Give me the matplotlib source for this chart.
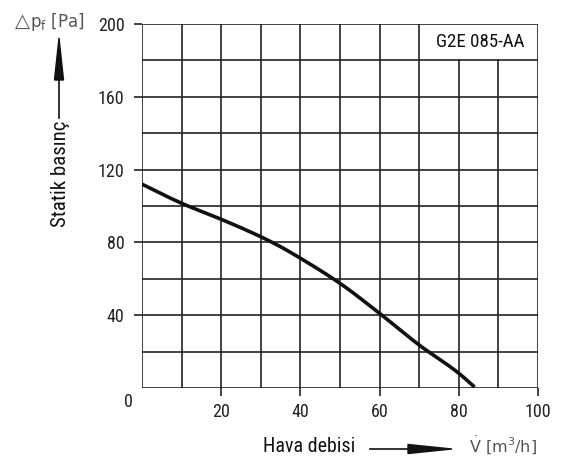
import matplotlib
matplotlib.use("Agg")
import matplotlib.pyplot as plt
from matplotlib.patches import Polygon
from matplotlib.lines import Line2D
import numpy as np

# Data
flow = [0, 10, 20, 30, 35, 40, 50, 60, 70, 80, 84]
pressure = [112, 101.5, 92.7, 83.1, 77.6, 71.3, 57.5, 41.0, 23.6, 8.1, 0.5]
x_ticks = [20, 40, 60, 80, 100]
y_ticks = [40, 80, 120, 160, 200]
model = "G2E 085-AA"

W, H = 566, 474
fig = plt.figure(figsize=(W/100, H/100), dpi=100)
ax = fig.add_axes([142/W, 1-388/H, (538-142)/W, (388-24)/H])
ax.set_xlim(0, 100)
ax.set_ylim(0, 200)

narrow = ['Roboto Condensed', 'Liberation Sans Narrow', 'Liberation Sans', 'DejaVu Sans']
gc = '#222222'
# grid lines (box for the model label hides part of them)
for xv in range(0, 101, 10):
    top = 180 if xv in (80, 90) else 200
    ax.plot([xv, xv], [0, top], color=gc, lw=1.2, zorder=1, solid_capstyle='projecting')
for yv in range(0, 201, 20):
    ax.plot([0, 100], [yv, yv], color=gc, lw=1.2, zorder=1, solid_capstyle='projecting')
for s in ax.spines.values():
    s.set_visible(False)

xs = np.array(flow, float); ys = np.array(pressure, float)
def pchip(x, y, xn):
    h = np.diff(x); d = np.diff(y)/h
    m = np.zeros_like(y)
    m[0] = d[0]; m[-1] = d[-1]
    for k in range(1, len(x)-1):
        if d[k-1]*d[k] <= 0:
            m[k] = 0
        else:
            w1 = 2*h[k]+h[k-1]; w2 = h[k]+2*h[k-1]
            m[k] = (w1+w2)/(w1/d[k-1]+w2/d[k])
    out = np.empty_like(xn)
    for i, xv in enumerate(xn):
        k = min(np.searchsorted(x, xv)-1, len(x)-2); k = max(k, 0)
        t = (xv-x[k])/h[k]
        h00 = 2*t**3-3*t**2+1; h10 = t**3-2*t**2+t
        h01 = -2*t**3+3*t**2; h11 = t**3-t**2
        out[i] = h00*y[k]+h10*h[k]*m[k]+h01*y[k+1]+h11*h[k]*m[k+1]
    return out
xn = np.linspace(xs[0], xs[-1], 300)
ax.plot(xn, pchip(xs, ys, xn), color='#111111', lw=2.6, zorder=3, solid_capstyle='butt')

ax.set_xticks(x_ticks)
ax.set_yticks(y_ticks)
ax.set_xticklabels([str(v) for v in x_ticks])
ax.set_yticklabels([str(v) for v in y_ticks])
ax.tick_params(axis='both', direction='out', length=6, width=1.2, color=gc,
               labelsize=13, labelcolor='#222222')
ax.tick_params(axis='x', pad=4.5)
ax.tick_params(axis='y', pad=6.5)
for lab in ax.get_xticklabels() + ax.get_yticklabels():
    lab.set_family(narrow)
# the shared origin label sits below-left of the corner
ax.text(-2.3, -2.5, '0', transform=ax.transData, ha='right', va='top', fontsize=13,
        family=narrow, color='#222222')

# model label
ax.text(85.4, 190, model, ha='center', va='center', fontsize=13.6,
        family=narrow, color='#111111', zorder=4)

# axis titles
fig.text(61/W, 1-174/H, 'Statik basınç', rotation=90, ha='center', va='center',
         fontsize=15, family=narrow, color='#111111')
fig.text(309.5/W, 1-447/H, 'Hava debisi', ha='center', va='center',
         fontsize=14.4, family=narrow, color='#111111')
fig.text(22.5/W, 1-21/H, '△', ha='center', va='center', fontsize=14,
         family='DejaVu Sans', color='#555555')
fig.text(30/W, 1-27/H, r'p$_{\mathrm{f}}$ [Pa]', ha='left', va='baseline',
         fontsize=12, color='#555555')
fig.text(503/W, 1-445/H, r'$\dot{\mathrm{V}}$ [m$^3$/h]', ha='center', va='center',
         fontsize=11.5, color='#555555')

def fp(px, py):
    return (px/W, 1-py/H)

# y arrow
fig.add_artist(Line2D([59/W, 59/W], [1-118/H, 1-75/H], color='#111111', lw=1.2))
fig.add_artist(Polygon([fp(54.5, 80), fp(63.5, 80), fp(59, 38)], closed=True,
                       color='#111111', transform=fig.transFigure))
# x arrow
fig.add_artist(Line2D([370/W, 412/W], [1-449/H, 1-449/H], color='#111111', lw=1.2))
fig.add_artist(Polygon([fp(408, 444.5), fp(408, 453.5), fp(452, 449)], closed=True,
                       color='#111111', transform=fig.transFigure))

fig.savefig('out.png', dpi=100)
